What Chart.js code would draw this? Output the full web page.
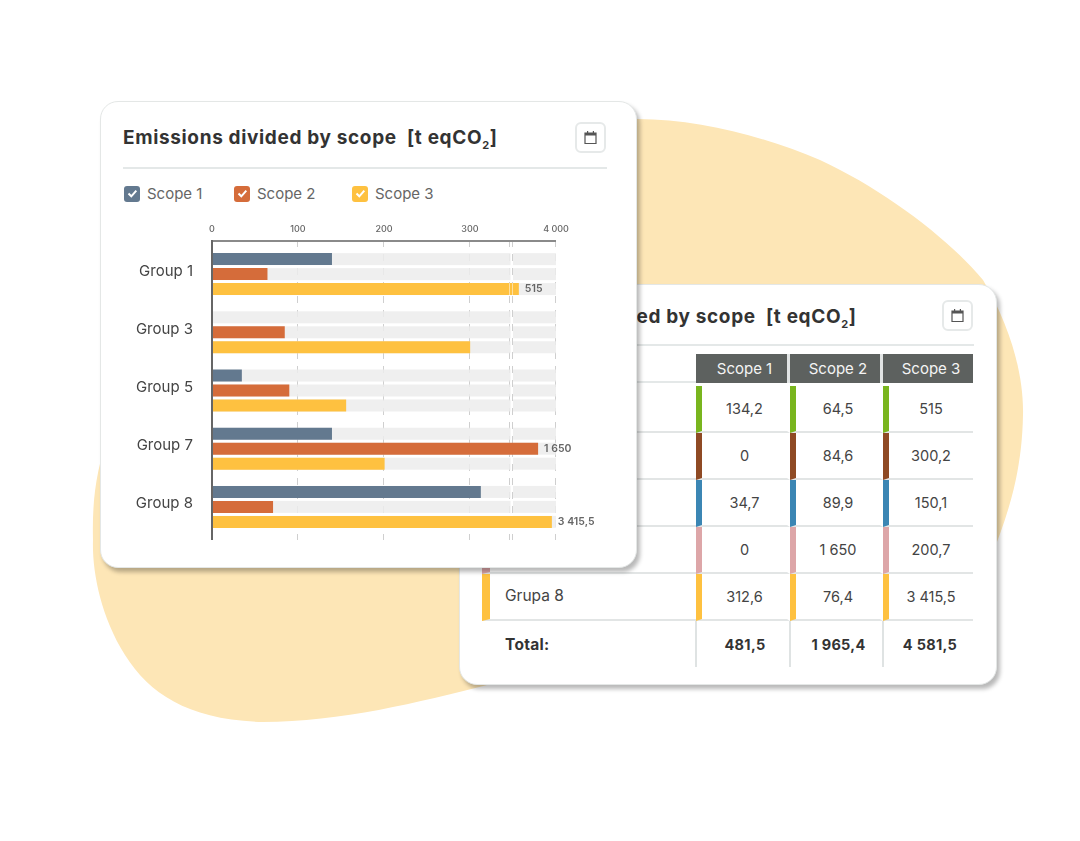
<!DOCTYPE html>
<html>
<head>
<meta charset="utf-8">
<title>Emissions divided by scope</title>
<script src="https://cdn.jsdelivr.net/npm/chart.js@4/dist/chart.umd.js"></script>
<style>
  html, body { margin: 0; padding: 0; background: #fff; }
  body { width: 1080px; height: 841px; position: relative; overflow: hidden; font-family: Inter, "Open Sans", sans-serif; color: #333; }
  #blob { position: absolute; left: 0; top: 0; }
  .card { position: absolute; background: #fff; border: 1px solid #e4e7e6; border-radius: 18px; box-shadow: 3px 4px 4px rgba(0, 0, 0, 0.28); box-sizing: border-box; }
  #front { left: 100px; top: 101px; width: 537px; height: 467px; z-index: 2; }
  #back { left: 459px; top: 284px; width: 538px; height: 401px; z-index: 1; }
  .title { position: absolute; left: 22px; top: 23px; font-size: 19px; letter-spacing: 0.65px; line-height: 26px; font-weight: 700; color: #333; white-space: pre; }
  .title sub { font-size: 11px; line-height: 0; }
  .rule { position: absolute; height: 2px; background: #e4e8e8; }
  .calendar { position: absolute; width: 31px; height: 31px; border: 2px solid #e6e9e9; border-radius: 6px; box-sizing: border-box; display: flex; align-items: center; justify-content: center; }
  #legend { position: absolute; left: 23px; top: 82px; height: 18px; }
  #legend div { position: absolute; top: 0; display: flex; align-items: center; font-size: 15px; color: #666; white-space: nowrap; }
  #legend span { width: 16px; height: 16px; border-radius: 3px; display: flex; align-items: center; justify-content: center; margin-right: 7px; }
  #chartBox { position: absolute; left: -1px; top: 108px; width: 537px; height: 356px; }
  #table { position: absolute; left: 22px; top: 69px; border-collapse: separate; border-spacing: 0; table-layout: fixed; width: 491px; font-size: 14.5px; color: #444; }
  #table th { height: 29px; padding: 0 0 0 6px; background: #5d615f; color: #f4f4f4; font-size: 15px; font-weight: 400; border-right: 3px solid #e1e4e4; box-sizing: border-box; }
  #table th.empty { background: none; border-right: 0; border-bottom: 2px solid #e4e8e8; }
  #table th.last { border-right: 0; }
  #table td { height: 47px; padding: 0; text-align: center; box-sizing: border-box; border-bottom: 2px solid #e2e5e5; border-left: 6px solid transparent; border-right: 3px solid transparent; }
  #table td.name { text-align: left; padding: 0 0 2px 15px; border-left-width: 8px; border-right: 0; font-size: 15.5px; }
  #table td.last { border-right: 0; }
  #table .spacer td { height: 3px; border: 0; }
  #table .total td { height: 46px; padding-left: 7px; border-bottom: 0; border-left: 0; box-shadow: -1px 0 0 #dfe3e3, inset 1px 0 0 #dfe3e3; font-weight: 700; letter-spacing: 0.3px; color: #333; }
  #table .total td.name { border-left: 0; padding: 0 0 0 23px; box-shadow: none; font-size: 15.5px; }
</style>
</head>
<body>
<svg id="blob" width="1080" height="841"><path fill="#fde6b6" d="M637 119 C 700 119 765 137 820 160 C 885 190 950 240 983 280 C 1010 325 1024 375 1023 415 C 1022 470 1010 510 990 560 C 960 625 900 660 800 670 C 650 665 560 665 487 685 C 420 702 340 722 263 722 C 190 720 150 695 125 655 C 100 615 92 570 93 540 C 92 500 96 470 110 430 C 150 320 200 250 300 180 C 400 130 540 119 637 119 Z"/></svg>

<div class="card" id="back">
  <div class="title" style="top:19px">Emissions divided by scope  [t eqCO<sub>2</sub>]</div>
  <div class="rule" style="left:17px;top:59px;width:497px"></div>
  <div class="calendar" style="left:482px;top:15px"><svg width="15" height="15" viewBox="0 0 15 15"><path fill="none" stroke="#555" stroke-width="1.2" d="M2 3h11v10.500H2z"/><path fill="#555" d="M2 3h11v2.500H2zM4 1h1.200v2H4zM9.800 1H11v2H9.800z"/></svg></div>
  <table id="table"></table>
</div>

<div class="card" id="front">
  <div class="title">Emissions divided by scope  [t eqCO<sub>2</sub>]</div>
  <div class="rule" style="left:22px;top:65px;width:484px"></div>
  <div class="calendar" style="left:474px;top:20px"><svg width="15" height="15" viewBox="0 0 15 15"><path fill="none" stroke="#555" stroke-width="1.2" d="M2 3h11v10.500H2z"/><path fill="#555" d="M2 3h11v2.500H2zM4 1h1.200v2H4zM9.800 1H11v2H9.800z"/></svg></div>
  <div id="legend"></div>
  <div id="chartBox"><canvas id="scopeChart"></canvas></div>
</div>

<script>
const groups = ["Group 1", "Group 3", "Group 5", "Group 7", "Group 8"];
const scope1 = [139.5, 0, 34.7, 139.5, 312.6];
const scope2 = [64.5, 84.6, 89.9, 1650, 71];
const scope3 = [515, 300.2, 156, 200.7, 3415.5];
const seriesNames = ["Scope 1", "Scope 2", "Scope 3"];
const seriesColors = ["#63798f", "#d56c3a", "#fec140"];

const tickValues = [0, 100, 200, 300, 4000];
const tickLabels = ["0", "100", "200", "300", "4 000"];

// the axis is cut after 350, everything above is squeezed in the last part
const axisStops = [0, 350, 515, 1650, 3415.5, 4000];
const axisFractions = [0, 0.875, 0.892, 0.948, 0.988, 1];
const breakValues = [346, 351];
const labelFrom = 350;

const tableGroups = ["Grupa 1", "Grupa 3", "Grupa 5", "Grupa 7", "Grupa 8"];
const tableScope1 = [134.2, 0, 34.7, 0, 312.6];
const tableScope2 = [64.5, 84.6, 89.9, 1650, 76.4];
const tableScope3 = [515, 300.2, 150.1, 200.7, 3415.5];
const tableTotals = [481.5, 1965.4, 4581.5];
const groupColors = ["#79b51e", "#8f4a24", "#3b86b4", "#dda6a8", "#fec140"];
const columnWidths = [214, 94, 93, 90];

function formatNumber(value) {
  const parts = String(value).split(".");
  const whole = parts[0].replace(/\B(?=(\d{3})+$)/g, "\u00a0");
  return parts[1] ? whole + "," + parts[1] : whole;
}

function buildLegend() {
  const lefts = [0, 110, 228];
  const check = '<svg width="11" height="11" viewBox="0 0 11 11"><path fill="none" stroke="#fff" stroke-width="2" d="M1.500 5.500l2.800 2.800 5-5.600"/></svg>';
  document.querySelector("#legend").innerHTML = seriesNames
    .map((name, i) => `<div style="left:${lefts[i]}px"><span style="background:${seriesColors[i]}">${check}</span>${name}</div>`)
    .join("");
}

function buildTable() {
  const cols = `<colgroup>` + columnWidths.map((w) => `<col style="width:${w}px">`).join("") + `</colgroup>`;
  const header = `<tr><th class="empty"></th>` +
    seriesNames.map((name, i) => `<th class="${i == 2 ? "last" : ""}">${name}</th>`).join("") + `</tr>`;
  const rows = tableGroups
    .map((name, i) => {
      const border = `border-left-color:${groupColors[i]}`;
      return `<tr>
        <td class="name" style="${border}">${name}</td>
        <td style="${border}">${formatNumber(tableScope1[i])}</td>
        <td style="${border}">${formatNumber(tableScope2[i])}</td>
        <td class="last" style="${border}">${formatNumber(tableScope3[i])}</td>
      </tr>`;
    })
    .join("");
  const total = `<tr class="total"><td class="name">Total:</td>` +
    tableTotals.map((value) => `<td>${formatNumber(value)}</td>`).join("") + `</tr>`;
  document.querySelector("#table").innerHTML =
    cols + header + `<tr class="spacer"><td colspan="4"></td></tr>` + rows + total;
}

class BrokenScale extends Chart.LinearScale {
  buildTicks() {
    return tickValues.map((value) => ({ value }));
  }
  getPixelForValue(value) {
    let i = 1;
    while (i < axisStops.length - 1 && value > axisStops[i]) i++;
    const part = (value - axisStops[i - 1]) / (axisStops[i] - axisStops[i - 1]);
    return this.getPixelForDecimal(axisFractions[i - 1] + part * (axisFractions[i] - axisFractions[i - 1]));
  }
}
BrokenScale.id = "broken";
BrokenScale.defaults = Chart.LinearScale.defaults;
Chart.register(BrokenScale);

// grey tracks behind the bars and the dashed grid
const tracksPlugin = {
  id: "tracks",
  beforeDatasetsDraw(chart) {
    const ctx = chart.ctx;
    const x = chart.scales.x;
    const area = chart.chartArea;
    const cutLeft = x.getPixelForValue(breakValues[0]);
    const cutRight = x.getPixelForValue(breakValues[1]);
    ctx.save();
    ctx.setLineDash([7, 7]);
    ctx.strokeStyle = "#cfcfcf";
    ctx.lineWidth = 1;
    tickValues.concat(breakValues).forEach((value, i) => {
      if (i == 0) return;
      const px = Math.round(x.getPixelForValue(value)) - 0.5;
      ctx.beginPath();
      ctx.moveTo(px, area.top - 5);
      ctx.lineTo(px, area.bottom + 4);
      ctx.stroke();
    });
    ctx.setLineDash([]);
    ctx.fillStyle = "rgba(236, 236, 236, 0.85)";
    chart.data.datasets.forEach((dataset, d) => {
      chart.getDatasetMeta(d).data.forEach((bar) => {
        const top = bar.y - bar.height / 2;
        ctx.fillRect(area.left, top, cutLeft + 1 - area.left, bar.height);
        ctx.fillRect(cutRight, top, area.right - cutRight, bar.height);
      });
    });
    ctx.restore();
  },
  afterDatasetsDraw(chart) {
    const ctx = chart.ctx;
    const x = chart.scales.x;
    const area = chart.chartArea;
    ctx.save();
    ctx.font = "600 10.5px Inter, sans-serif";
    ctx.textBaseline = "middle";
    chart.data.datasets.forEach((dataset, d) => {
      chart.getDatasetMeta(d).data.forEach((bar, i) => {
        const value = dataset.data[i];
        if (value <= labelFrom) return;
        // values beyond the cut get a label
        ctx.fillStyle = "#666";
        ctx.fillText(formatNumber(value), bar.x + 6, bar.y);
        // the cut only shows through a bar that ends just after it
        if (value < 1000) {
          ctx.fillStyle = "rgba(255, 255, 255, 0.5)";
          breakValues.forEach((cut) => {
            ctx.fillRect(Math.round(x.getPixelForValue(cut)) - 1, bar.y - bar.height / 2, 1, bar.height);
          });
        }
      });
    });
    // axis lines
    ctx.fillStyle = "#8a8a8a";
    ctx.fillRect(area.left, area.top - 5, area.right - area.left, 2);
    ctx.fillStyle = "#666";
    ctx.fillRect(area.left - 1, area.top - 5, 2, area.bottom - area.top + 9);
    ctx.restore();
  },
};

function createScopeChart() {
  new Chart(document.getElementById("scopeChart").getContext("2d"), {
    type: "bar",
    data: {
      labels: groups,
      datasets: [scope1, scope2, scope3].map((values, i) => ({
        label: seriesNames[i],
        data: values,
        backgroundColor: seriesColors[i],
        categoryPercentage: 0.7725,
        barPercentage: 0.8,
      })),
    },
    options: {
      indexAxis: "y",
      responsive: true,
      maintainAspectRatio: false,
      animation: false,
      layout: { padding: { right: 81, bottom: 30 } },
      plugins: { legend: { display: false }, tooltip: { enabled: false } },
      scales: {
        x: {
          type: "broken",
          position: "top",
          min: 0,
          max: 4000,
          grid: { display: false },
          border: { display: false },
          afterFit: (scale) => { scale.height = 35; },
          ticks: {
            autoSkip: false,
            maxRotation: 0,
            padding: 2,
            color: "#666",
            font: { family: "Inter", size: 9, weight: "500" },
            callback: (value) => tickLabels[tickValues.indexOf(value)],
          },
        },
        y: {
          grid: { display: false },
          border: { display: false },
          afterFit: (scale) => { scale.width = 112; },
          ticks: { padding: 11, labelOffset: -3, color: "#444", font: { family: "Inter", size: 15 } },
        },
      },
    },
    plugins: [tracksPlugin],
  });
}

buildLegend();
buildTable();
createScopeChart();
</script>
</body>
</html>
